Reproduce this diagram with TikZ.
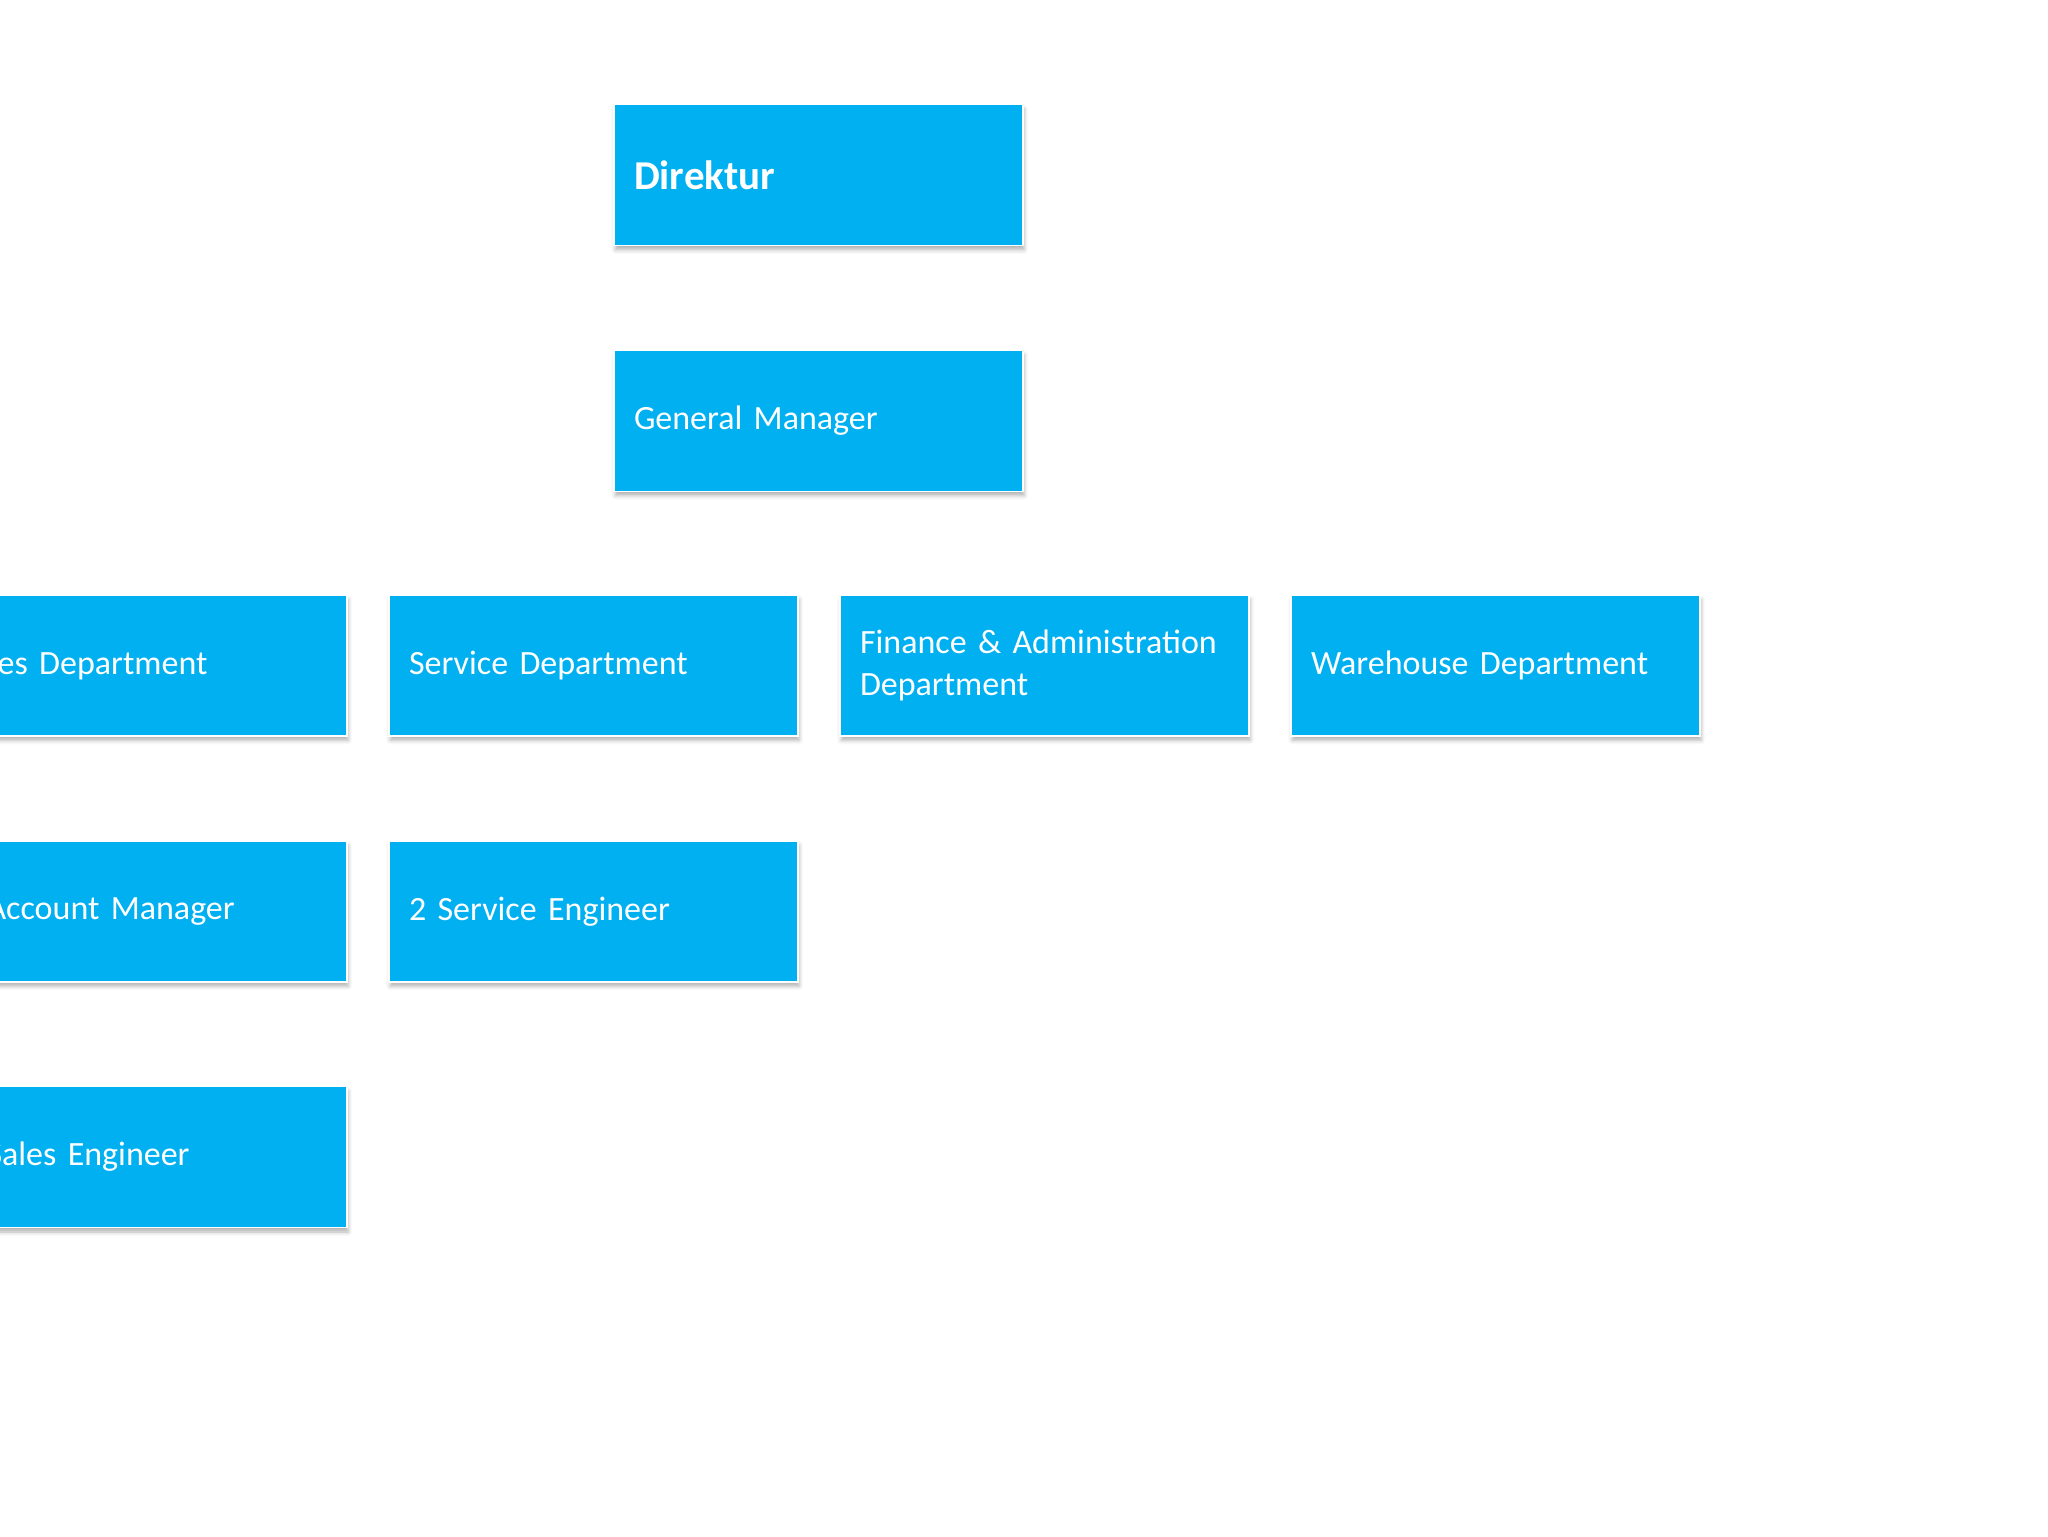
\documentclass[tikz,border=0pt]{standalone}
\usepackage{fontspec}
\setmainfont[WordSpace={0.9,0,0}]{Carlito}
\usetikzlibrary{positioning, shadows.blur}
\definecolor{OrgBlue}{HTML}{00B0F0}
\tikzset{
  unit/.style={draw=white, line width=0.8pt, fill=OrgBlue, text=white, align=left,
    text width=184.5pt, inner xsep=10pt, minimum width=204.5pt, minimum height=70.5pt,
    font=\fontsize{17pt}{20.8pt}\selectfont,
    blur shadow={shadow xshift=0.6pt, shadow yshift=-2.2pt, shadow blur radius=2pt, shadow opacity=30}},
  head/.style={unit, font=\fontsize{20.5pt}{24pt}\selectfont\bfseries}
}

\begin{document}
\begin{tikzpicture}[node distance=51.6pt and 20.2pt]
  \useasboundingbox (0,0) rectangle (1024pt,-768pt);
  \node[head] (dir) at (409.25pt,-87.5pt) {Direktur};
  \node[unit,below=of dir] (gm) {General Manager};
  \node[unit] (service) at (296.75pt,-332.75pt) {Service Department};
  \node[unit,left=of service] (sales) {Sales Department};
  \node[unit,right=of service] (finance) {Finance \& Administration Department};
  \node[unit,right=of finance] (warehouse) {Warehouse Department};
  \node[unit,below=of sales] (account) {2 Account Manager};
  \node[unit,below=of service] (svceng) {2 Service Engineer};
  \node[unit,below=of account] (saleseng) {2 Sales Engineer};
\end{tikzpicture}
\end{document}
